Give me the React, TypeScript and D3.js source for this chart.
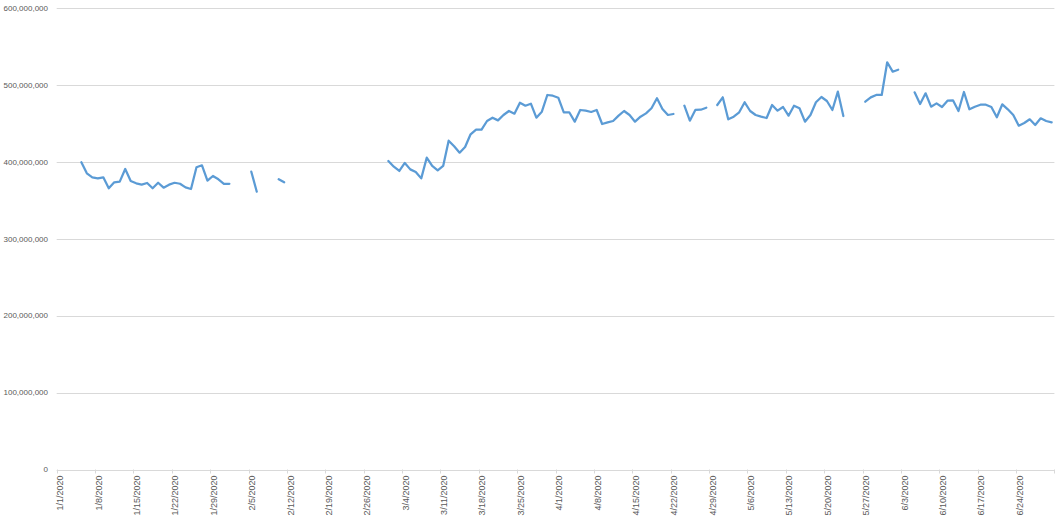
import React, { useEffect, useRef } from "react";
import * as d3 from "d3";

// daily values (millions), one per day starting 1/1/2020; null = no data
const startDate = new Date(2020, 0, 1);
const endDate = new Date(2020, 6, 1);

const janValues = [null, null, null, null,
  399.4, 385.1, 379.9, 378.6, 379.9, 365.6, 373.4, 374.2, 390.7, 375, 372.1, 370.3, 372.5, 365.6,
  372.8, 366.4, 370.3, 372.8, 371.5, 366.8, 364.7, 392.9, 395.5, 375.5, 381.6, 377.3, 371.5];
const febValues = [371.5, null, null, null, 387.2, 361.2, null, null, null, 377.3, 373.4,
  null, null, null, null, null, null, null, null, null, null, null, null, null, null, null, null, null, null];
const marValues = [401.1, 393.7, 388.1, 398.5, 390.2, 386.8, 378.5, 405.4, 394.6, 388.9, 394.6,
  427.5, 420.2, 411.9, 419.3, 435.8, 441.8, 441.8, 453.1, 457.4, 453.9, 460.9, 466.1, 462.6, 476.9,
  473, 475.6, 457.4, 465.2, 486.9, 486, 483.4];
const aprValues = [464.4, 464.4, 452.2, 467.4, 466.5, 464.8, 467.4, 449.2, 451.3, 453.1, 460, 466.1,
  460.9, 452.2, 458.7, 463, 469.6, 482.6, 468.7, 460.9, 462.2, null, 473, 453.5, 467.4, 467.8, 470.4,
  null, 473.9, 483.9];
const mayValues = [455.3, 458.7, 464.4, 477.4, 466.1, 460.9, 458.7, 457, 473.9, 466.5, 471.3, 460,
  473, 469.6, 452.2, 460.9, 477.4, 484.3, 479.1, 467.4, 491.2, 459.6, null, null, null, 478.2, 483.8,
  486.9, 486.9, 529.4, 517.2];
const junValues = [519.8, null, null, 490.4, 475.2, 489.1, 471.7, 476, 471.3, 479.5, 480, 466.1, 490.8,
  468.3, 471.7, 474.3, 474.3, 471.3, 457.9, 474.8, 468.3, 460.9, 447, 450.5, 455.3, 447.9, 456.6,
  453.1, 451.4];

const values = [...janValues, ...febValues, ...marValues, ...aprValues, ...mayValues, ...junValues];
const yTicks = [0, 100, 200, 300, 400, 500, 600];

const App = () => {
  const ref = useRef();

  useEffect(() => {
    const svg = d3.select(ref.current);
    svg.selectAll("*").remove();

    const left = 56.7, right = 1054.4, top = 8, bottom = 469.5;
    const font = "'Liberation Sans', Arial, sans-serif";

    const x = d3.scaleTime().domain([startDate, endDate]).range([left, right]);
    const y = d3.scaleLinear().domain([0, 600]).range([bottom, top]);

    const data = values.map((v, i) => ({ date: d3.timeDay.offset(startDate, i), v }));
    const cx = d => x(d3.timeHour.offset(d.date, 12));

    // gridlines + y labels
    svg.selectAll(".grid")
      .data(yTicks)
      .enter()
      .append("line")
      .attr("x1", left)
      .attr("x2", right)
      .attr("y1", d => Math.round(y(d)) + 0.5)
      .attr("y2", d => Math.round(y(d)) + 0.5)
      .attr("stroke", "#d9d9d9")
      .attr("stroke-width", 1);

    svg.selectAll(".ylab")
      .data(yTicks)
      .enter()
      .append("text")
      .attr("x", 48)
      .attr("y", d => y(d))
      .attr("dy", "0.35em")
      .attr("text-anchor", "end")
      .style("font-family", font)
      .style("font-size", "8px")
      .attr("fill", "#595959")
      .text(d => (d === 0 ? "0" : d3.format(",")(d * 1e6)));

    // x ticks every 7 days (labels stop at 6/24)
    const ticks = d3.timeDay.range(startDate, endDate, 7);
    svg.selectAll(".xtick")
      .data([...ticks, endDate])
      .enter()
      .append("line")
      .attr("x1", d => Math.round(x(d)) + 0.5)
      .attr("x2", d => Math.round(x(d)) + 0.5)
      .attr("y1", bottom)
      .attr("y2", bottom + 4)
      .attr("stroke", "#d9d9d9");

    svg.selectAll(".xlab")
      .data(ticks)
      .enter()
      .append("text")
      .attr("transform", d => `translate(${x(d) + 3.5},${bottom + 6}) rotate(-90)`)
      .attr("dy", "0.35em")
      .attr("text-anchor", "end")
      .style("font-family", font)
      .style("font-size", "9px")
      .attr("fill", "#595959")
      .text(d => d3.timeFormat("%-m/%-d/%Y")(d));

    const line = d3.line()
      .defined(d => d.v != null)
      .x(cx)
      .y(d => y(d.v));

    svg.append("path")
      .datum(data)
      .attr("d", line)
      .attr("fill", "none")
      .attr("stroke", "#5b9bd5")
      .attr("stroke-width", 2.25)
      .attr("stroke-linejoin", "round")
      .attr("stroke-linecap", "round");
  }, []);

  return (
    <svg ref={ref} width="1064" height="517"
      style={{ position: "absolute", left: 0, top: 0, background: "#fff" }} />
  );
};

export default App;
